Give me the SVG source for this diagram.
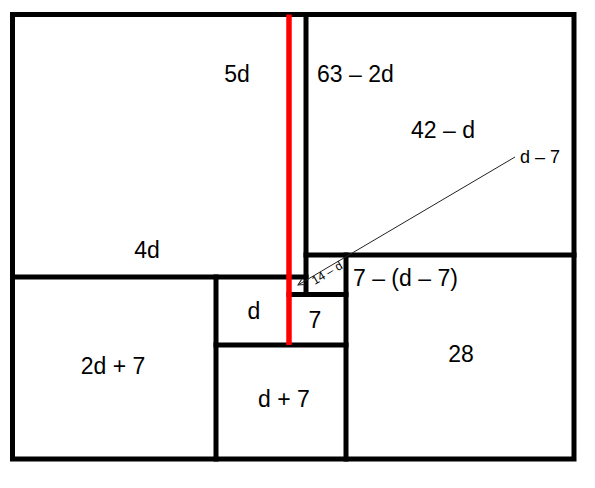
<svg xmlns="http://www.w3.org/2000/svg" width="595" height="488" viewBox="0 0 595 488">
<defs>
<style>
.frame{fill:none;stroke:#000;stroke-width:5}
.wall{stroke:#000;stroke-width:5;stroke-linecap:square}
.red{stroke:#f00;stroke-width:5.5}
.lbl{font-family:"Liberation Sans",Arial,sans-serif;font-size:23px;fill:#000}
.mid{text-anchor:middle}
.thin{stroke:#222;stroke-width:1;fill:none}
</style>
<marker id="arr" markerWidth="8" markerHeight="8" refX="7" refY="4" orient="auto" markerUnits="userSpaceOnUse">
<path d="M1,1 L7,4 L1,7" fill="none" stroke="#222" stroke-width="1"/>
</marker>
</defs>
<rect width="595" height="488" fill="#fff"/>
<g id="walls">
<rect class="frame" x="12.5" y="14.5" width="561.5" height="444.5"/>
<line class="wall" x1="306" y1="14.5" x2="306" y2="294.5"/>
<line class="wall" x1="306" y1="255" x2="574" y2="255"/>
<line class="wall" x1="346" y1="255" x2="346" y2="459"/>
<line class="wall" x1="12.5" y1="277" x2="306" y2="277"/>
<line class="wall" x1="216" y1="277" x2="216" y2="459"/>
<line class="wall" x1="216" y1="345" x2="346" y2="345"/>
<line class="wall" x1="289" y1="294.5" x2="346" y2="294.5"/>
</g>
<g id="red-line">
<line class="red" x1="289" y1="14.5" x2="289" y2="345"/>
</g>
<g id="connectors">
<line class="thin" x1="515" y1="157" x2="298" y2="285" marker-end="url(#arr)"/>
</g>
<g id="labels">
<text class="lbl mid" x="237" y="82">5d</text>
<text class="lbl" x="317" y="82">63 – 2d</text>
<text class="lbl mid" x="443" y="138">42 – d</text>
<text class="lbl" x="520" y="163" style="font-size:18px">d – 7</text>
<text class="lbl mid" x="147" y="258">4d</text>
<text class="lbl" x="353" y="286">7 – (d – 7)</text>
<text class="lbl mid" x="254" y="319">d</text>
<text class="lbl mid" x="315" y="328">7</text>
<text class="lbl mid" x="113" y="374">2d + 7</text>
<text class="lbl mid" x="461" y="362">28</text>
<text class="lbl mid" x="284" y="407">d + 7</text>
<text class="lbl mid" x="327" y="277" style="font-size:12px" transform="rotate(-30.5 327 273)">14 – d</text>
</g>
</svg>
